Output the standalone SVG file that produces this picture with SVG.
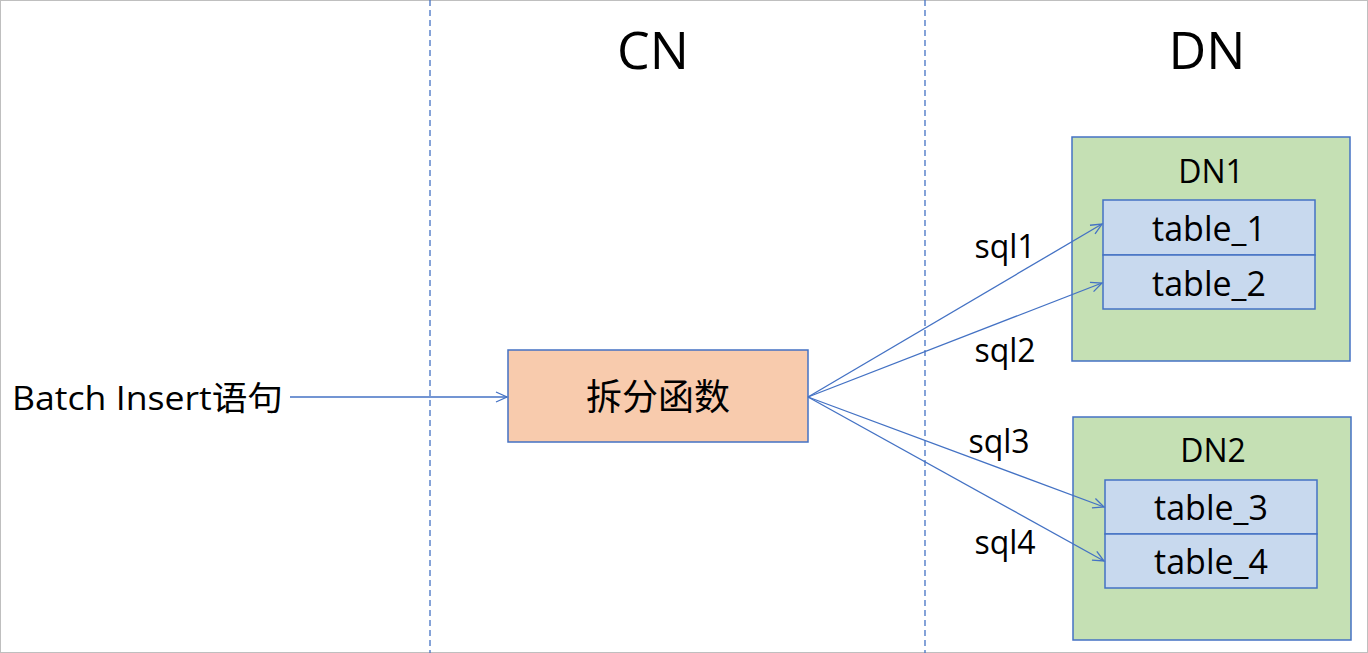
<svg xmlns="http://www.w3.org/2000/svg" width="1368" height="653" viewBox="0 0 1368 653">
<style>
text{font-family:"Open Sans","Noto Sans CJK SC",sans-serif;fill:#000;dominant-baseline:central}
.c{text-anchor:middle}
.n{stroke:#4472c4;stroke-width:1.5}
.t{fill:#c8d9ee}
.g{fill:#c5e0b4}
.e{stroke:#4472c4;stroke-width:1.3;fill:none;marker-end:url(#a)}
</style>
<defs><marker id="a" markerWidth="14" markerHeight="12" refX="12" refY="6" orient="auto" markerUnits="userSpaceOnUse"><path d="M1,1 L12,6 L1,11" fill="none" stroke="#4472c4" stroke-width="1.3"/></marker></defs>
<rect x="0.5" y="0.5" width="1367" height="652" fill="#fff" stroke="#bfbfbf"/>
<g id="dividers" stroke="#4472c4" stroke-width="1.3" stroke-dasharray="6,4">
<line x1="430" y1="0" x2="430" y2="653"/><line x1="925" y1="0" x2="925" y2="653"/></g>
<text class="c" x="653" y="48" font-size="52">CN</text>
<text class="c" x="1207" y="48" font-size="52">DN</text>
<g id="input"><text x="12" y="397" font-size="33" textLength="271" lengthAdjust="spacingAndGlyphs">Batch Insert语句</text></g>
<g id="split"><rect class="n" x="508" y="350" width="300" height="92" fill="#f8cbad"/><text class="c" x="658" y="396" font-size="36">拆分函数</text></g>
<g id="dn1"><rect class="n g" x="1072" y="137" width="278" height="224"/><text class="c" x="1211" y="170" font-size="32">DN1</text></g>
<g id="table_1"><rect class="n t" x="1103" y="200" width="212" height="55"/><text class="c" x="1209" y="228" font-size="34">table_1</text></g>
<g id="table_2"><rect class="n t" x="1103" y="255" width="212" height="54"/><text class="c" x="1209" y="283" font-size="34">table_2</text></g>
<g id="dn2"><rect class="n g" x="1073" y="417" width="278" height="223"/><text class="c" x="1213" y="449" font-size="32">DN2</text></g>
<g id="table_3"><rect class="n t" x="1105" y="480" width="212" height="54"/><text class="c" x="1211" y="507" font-size="34">table_3</text></g>
<g id="table_4"><rect class="n t" x="1105" y="534" width="212" height="54"/><text class="c" x="1211" y="561" font-size="34">table_4</text></g>
<g id="connectors">
<line class="e" x1="290" y1="397" x2="507" y2="397"/>
<line class="e" x1="808" y1="397" x2="1102" y2="224"/>
<line class="e" x1="808" y1="397" x2="1102" y2="283"/>
<line class="e" x1="808" y1="397" x2="1104" y2="507"/>
<line class="e" x1="808" y1="397" x2="1104" y2="561"/>
<text class="c" x="1005" y="245" font-size="32">sql1</text>
<text class="c" x="1005" y="349" font-size="32">sql2</text>
<text class="c" x="999" y="440" font-size="32">sql3</text>
<text class="c" x="1005" y="541" font-size="32">sql4</text>
</g>
</svg>
